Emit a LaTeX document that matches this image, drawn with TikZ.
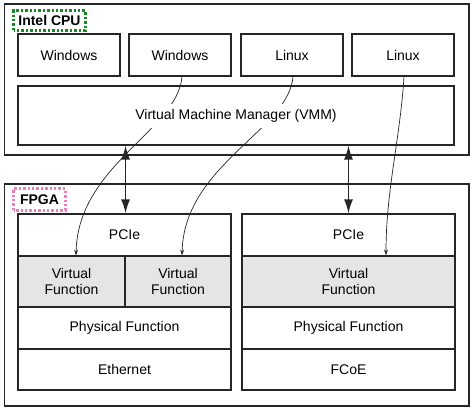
\documentclass[tikz,border=0pt]{standalone}
\usepackage{fontspec}
\setmainfont{Liberation Sans}
\usetikzlibrary{arrows.meta}
\definecolor{lineC}{HTML}{262626}
\definecolor{vfgray}{HTML}{E5E5E5}
\definecolor{cpuG}{HTML}{138A24}
\definecolor{fpgaP}{HTML}{F07CC0}
\tikzset{
  base/.style={font=\fontsize{14}{16}\selectfont, inner sep=0pt, align=center},
  blk/.style={base, draw=lineC, line width=1.1pt, minimum height=42pt},
  outer/.style={draw=lineC, line width=1.3pt, inner sep=0pt},
  vf/.style={blk, fill=vfgray, minimum height=51pt},
  tagtext/.style={font=\fontsize{14}{16}\selectfont\bfseries, inner sep=0pt},
  tagline/.style={line width=3.2pt, dash pattern=on 2.4pt off 2pt},
  thin/.style={draw=lineC, line width=0.7pt, -{Stealth[length=6pt,width=4pt]}},
  bus/.style={draw=lineC, line width=1.7pt, {Latex[length=14pt,width=9pt]}-{Latex[length=14pt,width=9pt]}}
}
\begin{document}
\begin{tikzpicture}[x=1pt,y=-1pt]
\useasboundingbox (0,0) rectangle (474,409);
% outer boxes
\node[outer, minimum width=464.5pt, minimum height=151pt] (cpu) at (236.75,79.5) {};
\node[outer, minimum width=464.5pt, minimum height=222pt] (fpga) at (236.75,295) {};
% tags
\node[tagtext, minimum width=71pt, minimum height=19pt] (cputag) at (49.5,20.5) {Intel CPU};
\draw[tagline, draw=cpuG] (cputag.south west) rectangle (cputag.north east);
\node[tagtext, minimum width=51pt, minimum height=21pt] (fpgatag) at (39.5,199.5) {FPGA};
\draw[tagline, draw=fpgaP] (fpgatag.south west) rectangle (fpgatag.north east);
% guest OS
\node[blk, minimum width=102pt] (w1) at (69,55) {Windows};
\node[blk, minimum width=102pt] (w2) at (180,55) {Windows};
\node[blk, minimum width=102pt] (l1) at (292,55) {Linux};
\node[blk, minimum width=102pt] (l2) at (403,55) {Linux};
\node[blk, minimum width=436pt, minimum height=59pt] (vmm) at (236,115.5) {};
% left FPGA stack
\node[blk, minimum width=213pt] (lpcie) at (124.5,235) {PCIe};
\node[vf, minimum width=107pt] (lvf1) at (71.5,281.5) {Virtual\\Function};
\node[vf, minimum width=106pt] (lvf2) at (178,281.5) {Virtual\\Function};
\node[blk, minimum width=213pt] (lpf) at (124.5,328) {Physical Function};
\node[blk, minimum width=213pt, minimum height=41pt] (eth) at (124.5,369.5) {Ethernet};
% right FPGA stack
\node[blk, minimum width=213pt] (rpcie) at (348.5,235) {PCIe};
\node[vf, minimum width=213pt] (rvf) at (348.5,281.5) {Virtual\\Function};
\node[blk, minimum width=213pt] (rpf) at (348.5,328) {Physical Function};
\node[blk, minimum width=213pt, minimum height=41pt] (fcoe) at (348.5,369.5) {FCoE};
% curved mappings
\draw[thin] ([xshift=2pt]w2.south) .. controls (178,130) and (78,165) .. ([xshift=4.5pt]lvf1.north);
\draw[thin] ([xshift=1pt]l1.south) .. controls (289,130) and (184,165) .. ([xshift=4pt]lvf2.north);
\draw[thin] ([xshift=1pt]l2.south) .. controls (400,140) and (386,190) .. ([xshift=37.5pt]rvf.north);
% VMM label on top
\node[base, fill=white, inner xsep=3pt, inner ysep=5pt] (vmmtxt) at (236,116) {Virtual Machine Manager (VMM)};
% PCIe buses
\coordinate (lb) at (vmm.south -| lvf1.east);
\coordinate (rb) at (vmm.south -| rpcie.north);
\draw[bus] (lb) -- (lb |- lpcie.north);
\draw[bus] (rb) -- (rpcie.north);
\end{tikzpicture}
\end{document}
